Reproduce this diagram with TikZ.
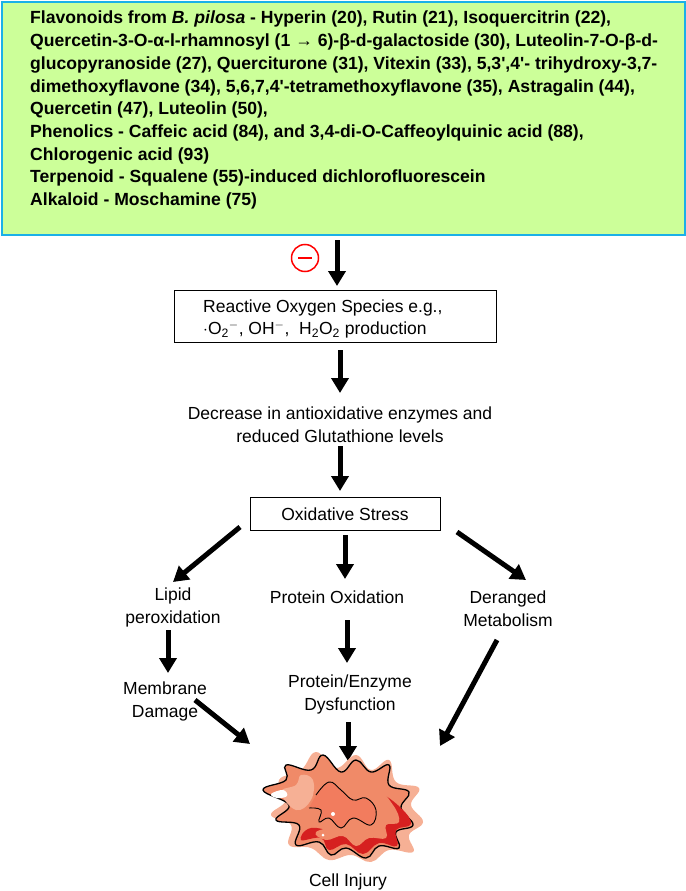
\documentclass[tikz,border=0pt]{standalone}
\usepackage{fontspec}
\setmainfont{Liberation Sans}
\usetikzlibrary{arrows.meta}
\definecolor{boxgreen}{HTML}{CCFF99}
\definecolor{boxcyan}{HTML}{1AB0E8}
\definecolor{salmonA}{HTML}{F6B095}
\definecolor{salmonB}{HTML}{F08A68}
\definecolor{redC}{HTML}{D62020}
\newcommand{\apo}{\textquotesingle}
\begin{document}
\begin{tikzpicture}[x=1pt,y=-1pt,
  fat/.style={line width=5pt,-{Triangle[length=15pt,width=17pt]}},
  lbl/.style={font=\fontsize{17.5}{23}\selectfont,align=center,inner sep=0pt},
  boxed/.style={draw,line width=1pt,inner sep=0pt}]
\useasboundingbox (0,0) rectangle (685,891);
\node[boxed,draw=boxcyan,line width=2pt,fill=boxgreen,minimum width=683pt,minimum height=233pt,anchor=north west] (top) at (1,1) {};
\node[anchor=north west,align=left,inner sep=0pt,font=\bfseries\fontsize{17.6}{22.7}\selectfont] (toptext) at (30,11) {%
Flavonoids from \textit{B. pilosa} - Hyperin (20), Rutin (21), Isoquercitrin (22),\\
Quercetin-3-O-α-l-rhamnosyl (1 → 6)-β-d-galactoside (30), Luteolin-7-O-β-d-\\
glucopyranoside (27), Quercituron{e} (31), Vitexin (33), 5,3\apo,4\apo- trihydroxy-3,7-\\
dimethoxyflavone (34), 5,6,7,4\apo-tetramethoxyflavone (35), Astragalin (44),\\
Quercetin (47), Luteolin (50),\\
Phenolics - Caffeic acid (84), and 3,4-di-O-Caffeoylquinic acid (88),\\
Chlorogenic acid (93)\\
Terpenoid - Squalene (55)-induced dichlorofluorescein\\
Alkaloid - Moschamine (75)};
\coordinate (a1s) at (337,240); \coordinate (a1e) at (337,286);
\draw[fat] (a1s) -- (a1e);
\node[draw=red,line width=1.5pt,circle,minimum size=27pt,inner sep=0pt] (minus) at (305,258) {};
\draw[red,line width=2.2pt] ([xshift=-7pt]minus.center) -- ([xshift=7pt]minus.center);
\node[boxed,minimum width=322pt,minimum height=52pt] (ros) at (335,316) {};
\node[lbl,align=left,anchor=west,font=\fontsize{17.5}{22}\selectfont] (rostext) at (203,319) {Reactive Oxygen Species e.g.,\\
$\cdot$O\textsubscript{2}\textsuperscript{$-$}, OH\textsuperscript{$-$},\ \ H\textsubscript{2}O\textsubscript{2} production};
\coordinate (a2s) at (340,350); \coordinate (a2e) at (340,393);
\draw[fat] (a2s) -- (a2e);
\node[lbl] (dec) at (340,425) {Decrease in antioxidative enzymes and\\reduced Glutathione levels};
\coordinate (a3s) at (340,446); \coordinate (a3e) at (340,491);
\draw[fat] (a3s) -- (a3e);
\node[boxed,minimum width=190pt,minimum height=33pt] (os) at (345,514) {};
\node[lbl] (ostext) at (345,514) {Oxidative Stress};
\draw[fat] (240,527) -- (173,582);
\draw[fat] (345,535) -- (345,579);
\draw[fat] (457,532) -- (526,580);
\node[lbl] (lipid) at (173,607) {Lipid\\peroxidation};
\node[lbl] (prox) at (337,597) {Protein Oxidation};
\node[lbl] (der) at (508,609) {Deranged\\Metabolism};
\draw[fat] (168,630) -- (168,673);
\draw[fat] (347,620) -- (347,663);
\draw[fat] (497,640) -- (440,746);
\node[lbl] (mem) at (165,701) {Membrane\\Damage};
\node[lbl] (ped) at (350,694) {Protein/Enzyme\\Dysfunction};
\draw[fat] (195,700) -- (250,744);
\draw[fat] (348,722) -- (348,761);
% cell
\begin{scope}[shift={(341,810)}]
\fill[salmonA] plot[smooth cycle,tension=0.7] coordinates {(-62,-30)(-40,-40)(-25,-58)(-5,-42)(15,-55)(30,-40)(48,-50)(55,-28)(78,-22)(70,-5)(82,12)(68,25)(72,42)(48,40)(30,52)(10,45)(-12,50)(-30,38)(-52,35)(-50,15)(-70,5)(-55,-10)};
\fill[salmonB,draw=black,line width=1.3pt] plot[smooth cycle,tension=0.7] coordinates {(-78,-20)(-55,-30)(-55,-45)(-30,-40)(-18,-55)(0,-38)(15,-50)(30,-38)(48,-45)(48,-25)(68,-18)(60,-2)(72,15)(55,22)(58,38)(38,36)(25,48)(5,38)(-10,45)(-22,32)(-45,35)(-42,15)(-65,10)(-52,-5)};
\fill[redC] plot[smooth cycle,tension=0.7] coordinates {(40,-15)(60,-2)(70,14)(55,20)(56,36)(38,33)(22,44)(5,34)(-12,40)(-20,28)(-40,30)(-30,18)(0,22)(25,15)(42,5)};
\fill[salmonB] plot[smooth cycle,tension=0.7] coordinates {(35,-20)(52,-5)(58,12)(45,15)(45,28)(28,28)(15,36)(2,26)(-15,30)(-25,22)(0,15)(22,8)};
\fill[salmonA] plot[smooth cycle,tension=0.7] coordinates {(-60,-18)(-45,-25)(-40,-35)(-28,-30)(-30,-10)(-45,0)};
\fill[white] plot[smooth cycle,tension=0.7] coordinates {(-70,-16)(-58,-20)(-54,-14)(-64,-12)};
\draw[black,line width=0.9pt,fill=salmonB!90!red] plot[smooth,tension=0.7] coordinates {(-25,-15)(-12,-28)(0,-20)(12,-10)(25,-12)(35,0)(30,15)(12,8)(0,18)(-12,8)(-22,12)(-20,0)(-32,-2)};
\fill[white] (-8,4) circle (2);
\fill[white] (-18,25) circle (1.5);
\end{scope}
\node[lbl] (cell) at (348,882) {Cell Injury};
\end{tikzpicture}
\end{document}
